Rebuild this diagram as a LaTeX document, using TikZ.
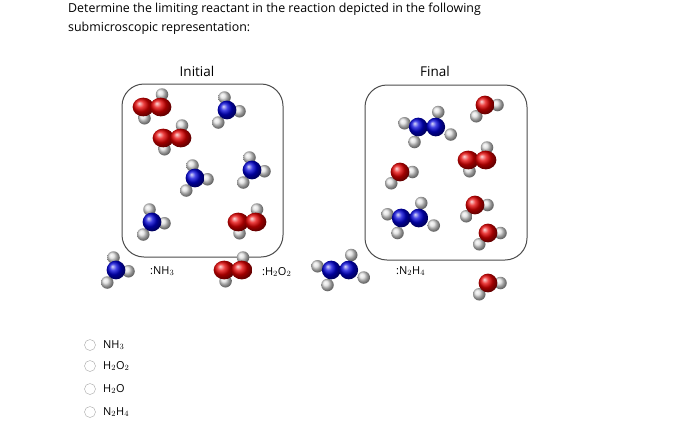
\documentclass[tikz,border=0pt]{standalone}
\usepackage{fontspec}
\setmainfont{Open Sans}
\begin{document}
\begin{tikzpicture}[x=1pt,y=-1pt,
  hat/.style={ball color=gray!25,draw=none},
  nat/.style={ball color=blue!85!black,draw=none},
  oat/.style={ball color=red!90!black,draw=none},
  box/.style={draw=black!70,line width=1pt,rounded corners=22pt},
  lbl/.style={font=\fontsize{11}{13}\selectfont,anchor=west,inner sep=0},
  radio/.style={draw=gray!70,circle,minimum size=11pt,inner sep=0,fill=white}]
\useasboundingbox (0,0) rectangle (700,440);
\fill[white] (0,0) rectangle (700,440);
\tikzset{
 nh3/.pic={\begin{scope}[scale=1.25]\shade[hat] (-2,-10) circle (5); \shade[hat] (10,1) circle (5); \shade[hat] (-7,10) circle (5); \shade[nat] (0,0) circle (7.5);\end{scope}},
 hoo/.pic={\begin{scope}[scale=1.25]\shade[hat] (8,-10) circle (5); \shade[hat] (-6,9) circle (5); \shade[oat] (-7,0) ellipse (8.5 and 7.5); \shade[oat] (7,0) ellipse (8.5 and 7.5);\end{scope}},
 hho/.pic={\begin{scope}[scale=1.25]\shade[hat] (10,0) circle (5); \shade[hat] (-7,9) circle (5); \shade[oat] (0,0) circle (7.5);\end{scope}},
 nnh/.pic={\begin{scope}[scale=1.25]\shade[hat] (-18,-3) circle (5); \shade[hat] (-10,12) circle (5); \shade[hat] (9,-12) circle (5); \shade[hat] (19,6) circle (5); \shade[nat] (-7,0) circle (7.5); \shade[nat] (7,0) circle (7.5);\end{scope}}}
\node[lbl,anchor=north west,align=left,font=\fontsize{12.4}{19}\selectfont] (q) at (68,3) {Determine the limiting reactant in the reaction depicted in the following\\submicroscopic representation:};
\node[lbl,anchor=center,font=\fontsize{13.5}{15}\selectfont] (ti) at (197,71) {Initial};
\node[lbl,anchor=center,font=\fontsize{13.5}{15}\selectfont] (tf) at (435,71) {Final};
\draw[box] (122,84) rectangle (283,257);
\draw[box] (365,85) rectangle (527,260);
\pic at (152,107) {hoo}; \pic at (227,110) {nh3}; \pic at (172,138) {hoo};
\pic at (195,178) {nh3}; \pic at (252,170) {nh3}; \pic at (152,222) {nh3};
\pic at (247,222) {hoo};
\pic at (427,127) {nnh}; \pic at (485,105) {hho}; \pic at (477,160) {hoo};
\pic at (400,172) {hho}; \pic at (410,218) {nnh}; \pic at (475,205) {hho};
\pic at (488,233) {hho};
\pic at (116,270) {nh3}; \node[lbl] (l1) at (150,271) {:NH$_3$};
\pic at (233,270) {hoo}; \node[lbl] (l2) at (262,272) {:H$_2$O$_2$};
\pic at (340,270) {nnh}; \node[lbl] (l3) at (396,271) {:N$_2$H$_4$};
\pic at (488,283) {hho};
\foreach \y/\t in {345/NH$_3$,366/H$_2$O$_2$,389/H$_2$O,412/N$_2$H$_4$}{
  \node[radio] at (90,\y) {}; \node[lbl] at (103,\y) {\t};}
\end{tikzpicture}
\end{document}
